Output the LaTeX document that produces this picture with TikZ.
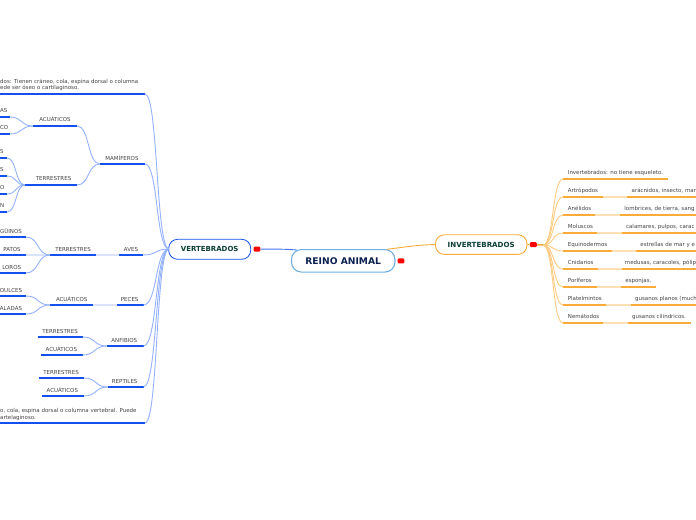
\documentclass[tikz,border=0pt]{standalone}
\usepackage{fontspec}
\setmainfont{DejaVu Sans}
\usetikzlibrary{calc}
\definecolor{blueS}{HTML}{1450F0}
\definecolor{blueF}{HTML}{94B2FF}
\definecolor{orS}{HTML}{FBAB3A}
\definecolor{orF}{HTML}{FFE0B4}
\definecolor{orC}{HTML}{FFCB80}
\definecolor{txt}{HTML}{444444}
\definecolor{navy}{HTML}{0B2050}
\definecolor{dgreen}{HTML}{0B4035}
\definecolor{rim}{HTML}{6FB0E0}
\tikzset{
 lab/.style={font=\fontsize{5.5}{6}\selectfont,text=txt,inner sep=0pt,text height=4pt,text depth=1.1pt,yshift=-.7pt},
 bul/.style={line width=1.4pt,blueS},
 ful/.style={line width=1.4pt,orS},
 bconn/.style={line width=.9pt,blueF},
 oconn/.style={line width=.9pt,orC},
 ofaint/.style={line width=1.4pt,orF},
 marker/.style={fill=red,draw=none,rounded corners=1.2pt,minimum width=7pt,minimum height=5pt,inner sep=0pt},
 mainbox/.style={draw,rounded corners=9pt,fill=white,inner sep=0pt},
}
\newcommand{\btopic}[7]{%
 \coordinate (#1-l) at (#2,#4);\coordinate (#1-r) at (#3,#4);
 \draw[bul] (#1-l) -- (#1-r);
 \node[lab] (#1-t) at (#5,#6) {#7};}
\newcommand{\bline}[4]{%
 \coordinate (#1-l) at (#2,#4);\coordinate (#1-r) at (#3,#4);
 \draw[bul] (#1-l) -- (#1-r);}
\newcommand{\scurve}[3]{\draw[#3] (#1) .. controls ($(#1)!.55!(#2|-#1)$) and ($(#2)!.55!(#1|-#2)$) .. (#2);}
\newcommand{\orow}[7]{%
 \coordinate (#1-a) at (563,#2);\coordinate (#1-b) at (#3,#2);
 \coordinate (#1-c) at (#4,#2);\coordinate (#1-d) at (#5,#2);
 \draw[ofaint] (#1-b) -- (#1-c);
 \draw[ful] (#1-a) -- (#1-b);\draw[ful] (#1-c) -- (#1-d);
 \node[lab,anchor=west] (#1-t) at (567.7,#2-6.5) {#6};
 \node[lab,anchor=west] (#1-v) at ($(#4,#2-6.5)+(4.2,0)$) {#7};
 \scurve{hubR}{#1-a}{oconn}}
\begin{document}
\begin{tikzpicture}[x=1bp,y=-1bp]
\useasboundingbox (0,0) rectangle (696,520);
\fill[white] (0,0) rectangle (696,520);
\coordinate (hubL) at (169,249);
\coordinate (hubR) at (543,245);
\node[mainbox,draw=blueS,line width=.8pt,minimum width=82bp,minimum height=20bp,font=\fontsize{7}{8}\bfseries\selectfont,text=dgreen] (vert) at (209.7,249.3) {VERTEBRADOS};
\node[mainbox,draw=orS,line width=.9pt,minimum width=91.5bp,minimum height=19.6bp,font=\fontsize{7.1}{8}\bfseries\selectfont,text=dgreen] (inv) at (481.2,244.6) {INVERTEBRADOS};
\node[mainbox,draw=rim,line width=1.1pt,minimum width=103.5bp,minimum height=22.5bp,font=\fontsize{9.2}{10}\bfseries\selectfont,text=navy,rounded corners=10pt] (reino) at (343.2,260.8) {REINO ANIMAL};
\node[marker] (mv) at (257,249.2) {};
\node[marker] (mi) at (533.3,244.7) {};
\node[marker] (mr) at (401,260.8) {};
\coordinate (rvj) at (296.7,250);
\coordinate (rij) at (387,249.3);
\draw[line width=.9pt,blueS!80] (mv.east) .. controls (275,249) and (285,249) .. (rvj);
\draw[line width=.9pt,orS] (rij) .. controls (405,247) and (420,244.7) .. (inv.west);
\draw[line width=1.6pt,orS] (mi.east) -- (hubR);
\draw[line width=.9pt,orS] (inv.east) -- (mi.west);
\bline{vtop}{0}{145}{94}
\node[lab,anchor=west] (vtop1) at (0,81) {dos: Tienen cráneo, cola, espina dorsal o columna};
\node[lab,anchor=west] (vtop2) at (0,87.3) {ede ser óseo o cartilaginoso.};
\btopic{mam}{100}{145}{164}{122}{158}{MAMÍFEROS}
\btopic{aves}{119.3}{143}{255}{131}{249}{AVES}
\btopic{peces}{116.7}{143.5}{305}{129.7}{299}{PECES}
\btopic{anf}{106.7}{143.5}{346}{124.3}{340}{ANFIBIOS}
\btopic{rep}{107.7}{143.5}{387}{124.7}{381}{REPTILES}
\bline{vbot}{0}{145}{423}
\node[lab,anchor=west] (vbot1) at (0,410) {o, cola, espina dorsal o columna vertebral. Puede};
\node[lab,anchor=west] (vbot2) at (0,417) {artelaginoso.};
\foreach \n in {vtop,mam,aves,peces,anf,rep,vbot}{\scurve{hubL}{\n-r}{bconn}}
\btopic{maq}{33}{77}{126}{55}{119}{ACUÁTICOS}
\btopic{mte}{25}{77}{185}{53.5}{178}{TERRESTRES}
\scurve{mam-l}{maq-r}{bconn}\scurve{mam-l}{mte-r}{bconn}
\btopic{ma1}{0}{10}{117}{3.8}{110}{AS}
\btopic{ma2}{0}{10}{134}{4.2}{127.7}{CO}
\scurve{maq-l}{ma1-r}{bconn}\scurve{maq-l}{ma2-r}{bconn}
\btopic{mt1}{0}{7}{158}{1.9}{151}{S}
\btopic{mt2}{0}{7}{176}{1.9}{169}{S}
\btopic{mt3}{0}{7}{194}{2.3}{187}{O}
\btopic{mt4}{0}{7}{212}{2.2}{205}{N}
\foreach \n in {mt1,mt2,mt3,mt4}{\scurve{mte-l}{\n-r}{bconn}}
\btopic{ate}{50}{96}{255}{73}{249}{TERRESTRES}
\scurve{aves-l}{ate-r}{bconn}
\btopic{at1}{0}{26}{237}{11}{231}{GÜINOS}
\btopic{at2}{0}{26}{255}{12}{249}{PATOS}
\btopic{at3}{0}{26}{273}{11.7}{267}{LOROS}
\foreach \n in {at1,at2,at3}{\scurve{ate-l}{\n-r}{bconn}}
\btopic{paq}{50}{93}{305}{71.7}{299}{ACUÁTICOS}
\scurve{peces-l}{paq-r}{bconn}
\btopic{pa1}{0}{26}{296}{11}{290}{OULCES}
\btopic{pa2}{0}{26}{314}{11}{308}{ALADAS}
\scurve{paq-l}{pa1-r}{bconn}\scurve{paq-l}{pa2-r}{bconn}
\btopic{ant}{37.7}{82.7}{337}{60}{331}{TERRESTRES}
\btopic{ana}{40.7}{82.7}{355}{61.3}{349}{ACUÁTICOS}
\scurve{anf-l}{ant-r}{bconn}\scurve{anf-l}{ana-r}{bconn}
\btopic{ret}{38.7}{84}{378}{61}{372}{TERRESTRES}
\btopic{rea}{41.7}{84}{396}{62.3}{390}{ACUÁTICOS}
\scurve{rep-l}{ret-r}{bconn}\scurve{rep-l}{rea-r}{bconn}
\coordinate (i0-a) at (563,179);\coordinate (i0-d) at (668,179);
\draw[ful] (i0-a) -- (i0-d);
\node[lab,anchor=west] (i0-t) at (567.7,172) {Invertebrados: no tiene esqueleto.};
\scurve{hubR}{i0-a}{oconn}
\orow{i1}{197}{602.7}{627.3}{696}{Artrópodos}{arácnidos, insecto, mar}
\orow{i2}{215}{595.3}{620}{696}{Anélidos}{lombrices, de tierra, sang}
\orow{i3}{233}{597}{621.7}{696}{Moluscos}{calamares, pulpos, carac}
\orow{i4}{251}{611.7}{636}{696}{Equinodermos}{estrellas de mar y e}
\orow{i5}{269}{598}{622.3}{696}{Cnidarios}{\hspace*{-1.8pt}medusas, caracoles, pólip}
\orow{i6}{287}{596.7}{621}{656}{Poríferos}{esponjas.}
\orow{i7}{305}{606}{630.7}{696}{Platelmintos}{gusanos planos (much}
\orow{i8}{323}{603.3}{627.7}{691}{Nemátodos}{gusanos cilíndricos.}
\end{tikzpicture}
\end{document}
